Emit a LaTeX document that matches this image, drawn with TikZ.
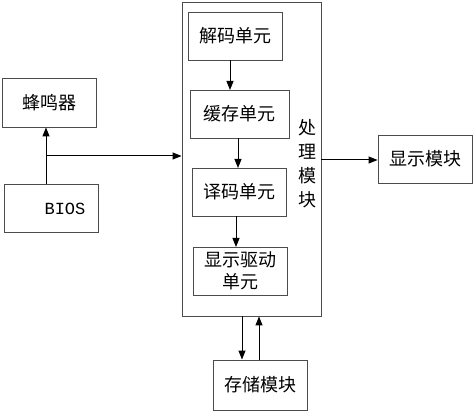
\documentclass[tikz,border=0pt]{standalone}
\usepackage{fontspec}
\setmainfont{Noto Sans CJK SC}
\newfontfamily\latinmono{Liberation Mono}
\usetikzlibrary{arrows.meta}
\begin{document}
\begin{tikzpicture}[x=1pt,y=-1pt,
  box/.style={draw=black!70,line width=0.9pt,inner sep=0pt,font=\fontsize{18}{21}\selectfont},
  arr/.style={draw=black,line width=1pt,-{Triangle[length=9pt,width=7pt]}},
  ln/.style={draw=black,line width=0.9pt}]
\useasboundingbox (0,0) rectangle (474,411);
% big processing module
\node[box,minimum width=139pt,minimum height=314pt] (proc) at (251.5,159) {};
\node[font=\fontsize{18}{24}\selectfont,align=center] (proclabel) at (307,164) {处\\理\\模\\块};
\node[box,minimum width=94pt,minimum height=48pt] (dec) at (235,36) {解码单元};
\node[box,minimum width=99pt,minimum height=48pt] (buf) at (239.5,114) {缓存单元};
\node[box,minimum width=94pt,minimum height=48pt] (tr) at (239,192) {译码单元};
\node[box,minimum width=94pt,minimum height=48pt,align=center,font=\fontsize{18}{22}\selectfont] (drv) at (240,271) {显示驱动\\单元};
\node[box,minimum width=94pt,minimum height=49pt] (buzz) at (49,102.5) {蜂鸣器};
\node[box,minimum width=94pt,minimum height=48pt] (bios) at (51,208) {};
\node[font=\latinmono\fontsize{17}{20}\selectfont] (biostext) at (65,209) {BIOS};
\node[box,minimum width=94pt,minimum height=48pt] (disp) at (425,159) {显示模块};
\node[box,minimum width=94pt,minimum height=50pt] (mem) at (260,385) {存储模块};
% arrows inside
\draw[arr] (230,60) -- (230,90);
\draw[arr] (238,138) -- (238,168);
\draw[arr] (236,216) -- (236,247);
% BIOS connections
\coordinate (j) at (46,156);
\draw[arr] (bios.north -| j) -- (buzz.south -| j);
\draw[arr] (j) -- (j -| proc.west);
% display
\draw[arr] (proc.east |- 0,160) -- (disp.west |- 0,160);
% memory
\draw[arr] (proc.south -| 242,0) -- (mem.north -| 242,0);
\draw[arr] (mem.north -| 259,0) -- (proc.south -| 259,0);
\end{tikzpicture}
\end{document}
